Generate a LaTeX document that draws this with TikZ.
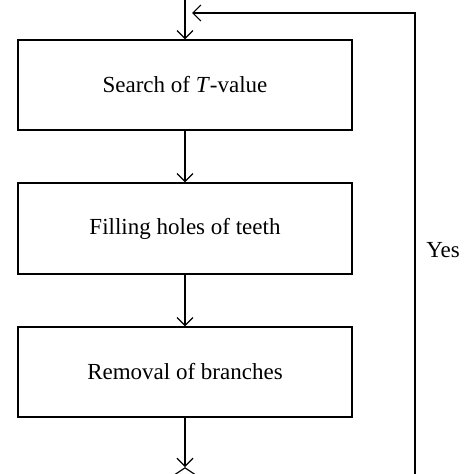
\documentclass[tikz,border=0pt]{standalone}
\usepackage{fontspec}
\setmainfont{Liberation Serif}
\usetikzlibrary{arrows.meta,shapes.geometric}
\begin{document}
\begin{tikzpicture}[x=1pt,y=-1pt,
  proc/.style={draw, line width=1.2pt, minimum width=334pt, minimum height=90pt, inner sep=0pt, font=\fontsize{23}{27}\selectfont},
  flow/.style={line width=1.2pt, -{Straight Barb[length=8pt,width=16pt,line width=1.2pt]}},
  plain/.style={line width=1.2pt}]
\useasboundingbox (0,0) rectangle (474,474);
\clip (0,0) rectangle (474,474);
\node[proc] (b1) at (185,85) {Search of \textit{T}-value};
\node[proc, minimum height=91pt] (b2) at (185,228.5) {Filling holes of teeth};
\node[proc] (b3) at (185,372) {Removal of branches};
\node[draw, diamond, aspect=2, line width=1.2pt, minimum width=60pt, minimum height=40pt, anchor=north] (d) at (185,467) {};
\coordinate (top) at (185,-2);
\coordinate (loopin) at (192,13);
\coordinate (corner) at (415,13);
\coordinate (loopbot) at (415,480);
\draw[flow] (top) -- (b1.north);
\draw[flow] (b1.south) -- (b2.north);
\draw[flow] (b2.south) -- (b3.north);
\draw[flow] (b3.south) -- (d.north);
\draw[flow] (loopbot) -- (corner) -- (loopin);
\node[font=\fontsize{23}{27}\selectfont] (yes) at (443,250) {Yes};
\end{tikzpicture}
\end{document}
